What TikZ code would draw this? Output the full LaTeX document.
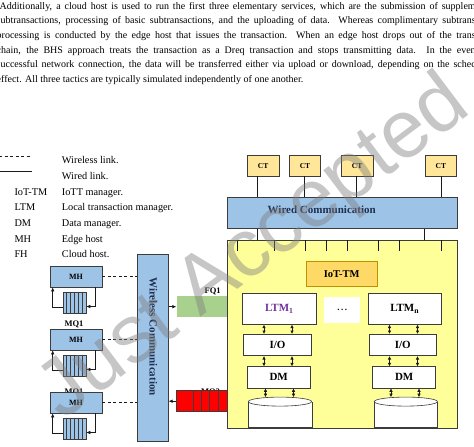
\documentclass[tikz,border=0pt]{standalone}
\usepackage{fontspec}
\setmainfont{Liberation Serif}
\setsansfont{Liberation Sans}
\usepackage{xcolor}
\usepackage{tikz}
\usetikzlibrary{calc,arrows.meta}
\definecolor{ink}{HTML}{1A1A1A}
\definecolor{edge}{HTML}{3C3C3C}
\definecolor{navy}{HTML}{1F2F50}
\definecolor{skyb}{HTML}{9DC3E6}
\definecolor{pale}{HTML}{FFFF99}
\definecolor{amber}{HTML}{FFD966}
\definecolor{amberd}{HTML}{BF9000}
\definecolor{sand}{HTML}{FFE699}
\definecolor{leaf}{HTML}{A9D18E}
\definecolor{plum}{HTML}{7030A0}
\definecolor{wmgray}{HTML}{808080}
\tikzset{
  base/.style={draw=edge, line width=0.6pt},
  wire/.style={draw=ink, line width=0.6pt},
  wless/.style={draw=ink, line width=0.6pt, dash pattern=on 3pt off 2.5pt},
  arr/.style={-{Latex[length=4pt,width=3.5pt]}},
  dbl/.style={wire, {Latex[length=3.5pt,width=3.5pt]}-{Latex[length=3.5pt,width=3.5pt]}},
  hostbox/.style={base, fill=skyb, minimum width=52pt, minimum height=21pt, font=\fontsize{8}{9}\selectfont\bfseries},
  qbox/.style={base, fill=skyb, minimum width=23pt, minimum height=21pt},
  ctbox/.style={base, fill=sand, minimum width=31.5pt, minimum height=20.3pt, font=\fontsize{7.5}{9}\selectfont\bfseries},
  tmbox/.style={base, fill=white, font=\fontsize{11}{13}\selectfont\bfseries},
  tag/.style={anchor=base, font=\fontsize{8.5}{10}\selectfont\bfseries},
  para/.style={anchor=base west, font=\fontsize{10}{12}\selectfont},
  lab/.style={anchor=base west, font=\fontsize{10.3}{12}\selectfont},
  comm/.style={text=navy, font=\fontsize{11}{13}\selectfont\bfseries},
  wmark/.style={text=wmgray, text opacity=0.45, font=\sffamily\fontsize{82}{90}\selectfont},
}
\begin{document}
\begin{tikzpicture}[x=1pt,y=-1pt,inner sep=0pt]
  \useasboundingbox (0,0) rectangle (474,447);
  \clip (0,0) rectangle (474,447);

  % running text above the figure
  \foreach \k/\xs/\w/\t in {
    0/-0.5/476/{Additionally, a cloud host is used to run the first three elementary services, which are the submission of supplem},
    1/-3.5/479/{subtransactions, processing of basic subtransactions, and the uploading of data. Whereas complimentary subtrans},
    2/-3.5/479/{processing is conducted by the edge host that issues the transaction. When an edge host drops out of the trans},
    3/-3.5/479/{chain, the BHS approach treats the transaction as a Dreq transaction and stops transmitting data. In the even},
    4/-3.5/479/{successful network connection, the data will be transferred either via upload or download, depending on the schec}}
    \node[para] (txt\k) at (\xs,9.3+14.67*\k) {\makebox[\w pt][s]{\t}};
  \node[para] (txt5) at (-3.5,82.7) {effect. All three tactics are typically simulated independently of one another.};

  % legend
  \coordinate (lw0) at (-1,156);
  \coordinate (lw1) at (31.7,156);
  \coordinate (ld0) at (-1,171.7);
  \coordinate (ld1) at (31.7,171.7);
  \draw[wless] (lw0) -- (lw1);
  \draw[wire] (ld0) -- (ld1);
  \node[lab] (lg1) at (61.7,163.5) {Wireless link.};
  \node[lab] (lg2) at (61.7,179.2) {Wired link.};
  \foreach \k/\y/\a/\d in {3/195.2/IoT-TM/IoTT manager., 4/210.8/LTM/Local transaction manager.,
      5/226.8/DM/Data manager., 6/242.2/MH/Edge host, 7/257.8/FH/Cloud host.} {
    \node[lab] (ab\k) at (14.3,\y) {\a};
    \node[lab] (lg\k) at (61.7,\y) {\d};
  }

  % wireless side
  \node[base, fill=skyb, minimum width=30.5pt, minimum height=187.5pt] (wc) at (153,348) {};
  \node[comm, rotate=-90] (wct) at (153.3,336.5) {Wireless Communication};
  \node[tag] (mql2) at (74,326.7) {MQ1};
  \node[tag] (mql3) at (74,394.5) {MQ1};
  \foreach \i/\y in {1/266,2/329,3/392} {
    \node[hostbox] (mh\i) at (76,\y+10.5) {MH};
    \node[qbox] (mq\i) at (74.5,\y+36.5) {};
    \foreach \c in {1,...,5}
      \draw[base] ($(mq\i.north west)+(\c*23/6,0)$) -- ($(mq\i.south west)+(\c*23/6,0)$);
    \draw[wire,arr] ($(mq\i.west)+(0,5)$) -| ($(mh\i.south west)+(3,0)$);
    \draw[wire,arr] ($(mh\i.south east)+(-7,0)$) |- ($(mq\i.east)+(0,4)$);
    \draw[wless] (mh\i.east) -- (mh\i.east -| wc.west);
  }

  % wired side
  \node[base, fill=pale, minimum width=230pt, minimum height=187.6pt] (yb) at (342,334.5) {};
  \node[base, fill=skyb, minimum width=230pt, minimum height=30.8pt] (wd) at (342,212.9) {};
  \node[comm] (wdt) at (321.7,209.5) {Wired Communication};
  \foreach \i/\x/\d in {1/263.2/-5.5,2/305/-1,3/357.2/-0.5,4/440.8/0} {
    \node[ctbox] (ct\i) at (\x,165.8) {CT};
    \draw[wire] ($(ct\i.south)+(\d,0)$) -- ($(ct\i.south |- wd.north)+(\d,0)$);
  }
  \foreach \d in {30.7,198}
    \draw[wire] ($(wd.south west)+(\d,0)$) -- ($(yb.north west)+(\d,0)$);
  \foreach \d in {10.3,47.3,79,99.7,120.3,152,173,214.7}
    \draw[wire] ($(yb.north west)+(\d,0)$) -- ++(0,11);

  % queues into the host side
  \node[fill=leaf, minimum width=50.5pt, minimum height=21.3pt] (fq) at (201.8,306.7) {};
  \node[tag] (fql) at (212.7,293.3) {FQ1};
  \draw[wire,arr] (fq.west -| wc.east) -- (fq.west);
  \node[tag] (rql) at (210.5,394) {MQ2};
  \node[base, fill=red, minimum width=51pt, minimum height=21pt] (rq) at (201.5,401.2) {};
  \foreach \d in {17.3,25.7,34,42.3}
    \draw[base] ($(rq.north west)+(\d,0)$) -- ($(rq.south west)+(\d,0)$);
  \draw[wire,arr] (rq.west) -- (rq.west -| wc.east);

  % inside the host
  \node[draw=amberd, line width=0.8pt, fill=amber, minimum width=71.3pt, minimum height=25pt,
    font=\fontsize{10.5}{12}\selectfont\bfseries] (tm) at (341.7,274.2) {IoT-TM};
  \node[tmbox, minimum width=73.3pt, minimum height=31pt, text=plum] (ltm1) at (279.3,308.8) {LTM\textsubscript{1}};
  \node[tmbox, minimum width=72.7pt, minimum height=31pt] (ltm2) at (404.7,308.8) {LTM\textsubscript{n}};
  \node[fill=white, minimum width=35.7pt, minimum height=26pt, font=\fontsize{9}{10}\selectfont\bfseries] (dots) at (342.2,309.7) {.\,.\,.};
  \node[tmbox, minimum width=68.4pt, minimum height=21.4pt] (io1) at (277.5,345) {I/O};
  \node[tmbox, minimum width=67.7pt, minimum height=21.4pt] (io2) at (402.8,345) {I/O};
  \node[tmbox, minimum width=62.7pt, minimum height=21.3pt] (dm1) at (278.7,377.3) {DM};
  \node[tmbox, minimum width=63pt, minimum height=21.3pt] (dm2) at (404.2,377.3) {DM};
  \node[minimum width=63.4pt, minimum height=30.2pt] (db1) at (280,412.4) {};
  \node[minimum width=63pt, minimum height=30.2pt] (db2) at (405.8,412.4) {};
  \foreach \c/\a/\b in {1/264/292,2/389.5/417.5} {
    \coordinate (ax\c) at (\a,0);
    \coordinate (bx\c) at (\b,0);
    \fill[white] ($(db\c.north west)+(0,4.5)$) rectangle (db\c.south east);
    \draw[base] ($(db\c.north west)+(0,4.5)$) -- (db\c.south west) -- (db\c.south east) -- ($(db\c.north east)+(0,4.5)$);
    \draw[base, fill=white] ($(db\c.north)+(0,4.5)$) ellipse [x radius=31.6, y radius=4.5];
    \foreach \p in {ax\c,bx\c} {
      \draw[dbl] (ltm\c.south -| \p) -- (io\c.north -| \p);
      \draw[dbl] (io\c.south -| \p) -- (dm\c.north -| \p);
      \draw[dbl] ($(dm\c.south -| \p)+(1.5,0)$) -- ($(db\c.north -| \p)+(1.5,0)$);
    }
  }

  % watermark
  \node[wmark, rotate=37] (wm) at (255,250) {Just Accepted};
\end{tikzpicture}
\end{document}
